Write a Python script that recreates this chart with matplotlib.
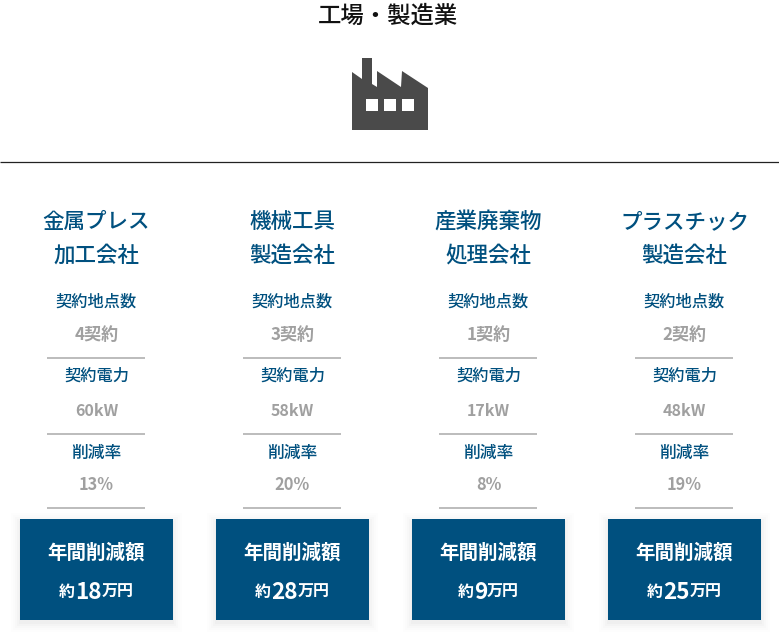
import matplotlib
matplotlib.use("Agg")
import matplotlib.pyplot as plt
from matplotlib.patches import Polygon, Rectangle

plt.rcParams['font.family'] = ['Noto Sans CJK JP', 'DejaVu Sans']

title = "工場・製造業"
names_line1 = ["金属プレス", "機械工具", "産業廃棄物", "プラスチック"]
names_line2 = ["加工会社", "製造会社", "処理会社", "製造会社"]
contracts = [4, 3, 1, 2]
power_kw = [60, 58, 17, 48]
reduction_pct = [13, 20, 8, 19]
savings_man = [18, 28, 9, 25]

BLUE = "#00507f"
GREY = "#a0a0a0"
LINE = "#aaaaaa"
PX = 0.72

fig = plt.figure(figsize=(7.79, 6.32), dpi=100)
ax = fig.add_axes([0, 0, 1, 1])
ax.set_xlim(0, 779)
ax.set_ylim(632, 0)
ax.axis("off")


def label(x, y, s, px, color, weight="normal"):
    return ax.text(x, y, s, fontsize=px * PX, color=color, ha="center",
                   va="center", fontweight=weight)


label(388, 16, title, 23.4, "#111111", "medium")

# factory icon
ax.add_patch(Polygon([(352, 130), (352, 72), (362, 79), (362, 58), (372, 58),
                      (372, 84), (377, 87), (377, 71), (401, 87), (402, 71),
                      (428, 88), (428, 130)],
                     closed=True, fc="#4a4a4a", ec="none"))
for wx in (366, 384, 402):
    ax.add_patch(Rectangle((wx, 99), 12, 12, fc="white", ec="none"))

ax.plot([0, 779], [162, 162], color="#222222", lw=0.9, solid_capstyle="butt")

fig.canvas.draw()
renderer = fig.canvas.get_renderer()

for i in range(len(names_line1)):
    cx = 96.5 + 196 * i
    label(cx, 222, names_line1[i], 21.5, BLUE, "medium")
    label(cx, 256, names_line2[i], 21.5, BLUE, "medium")

    label(cx, 302.5, "契約地点数", 16.2, BLUE, "medium")
    label(cx, 335, f"{contracts[i]}契約", 17, GREY, "bold")
    label(cx, 376.5, "契約電力", 16.2, BLUE, "medium")
    label(cx, 411.5, f"{power_kw[i]}kW", 16, GREY, "bold")
    label(cx, 452.5, "削減率", 16.8, BLUE, "medium")
    label(cx, 484.5, f"{reduction_pct[i]}%", 16.4, GREY, "bold")

    for ly in (358, 434, 508):
        ax.plot([cx - 49.5, cx + 48.5], [ly, ly], color=LINE, lw=1.1,
                solid_capstyle="butt")

    # soft shadow under the box
    for grow, alpha in ((9, 0.007), (7, 0.009), (5, 0.012), (3, 0.016), (1, 0.02)):
        ax.add_patch(Rectangle((cx - 76.5 - grow, 519 - grow + 3), 153 + 2 * grow,
                               101 + 2 * grow, fc="black", ec="none", alpha=alpha))
    ax.add_patch(Rectangle((cx - 76.5, 519), 153, 101, fc=BLUE, ec="none"))

    label(cx, 552.5, "年間削減額", 19.5, "white", "bold")

    # mixed-size savings line, centred as a group
    parts = [("約", 16), (str(savings_man[i]), 22.5), ("万円", 16)]
    texts = [ax.text(0, 590, s, fontsize=px * PX, color="white", ha="left",
                     va="center_baseline", fontweight="bold") for s, px in parts]
    widths = [t.get_window_extent(renderer).width for t in texts]
    x = cx - sum(widths) / 2
    for t, w in zip(texts, widths):
        t.set_x(x)
        x += w

fig.savefig("out.png", dpi=100)
